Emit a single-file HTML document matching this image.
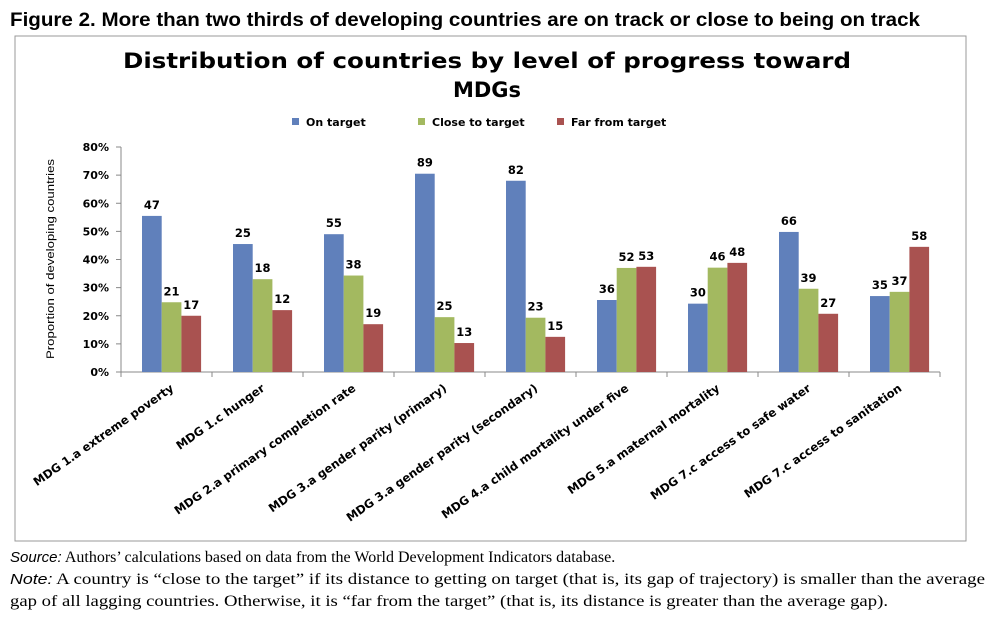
<!DOCTYPE html>
<html><head><meta charset="utf-8"><style>
html,body{margin:0;padding:0;background:#fff;}
svg{display:block;}
</style></head><body>
<svg id="c" width="997" height="625" viewBox="0 0 997 625" xmlns="http://www.w3.org/2000/svg">
<text x="10" y="26" font-family="Liberation Sans, sans-serif" font-weight="bold" font-size="19" textLength="910" lengthAdjust="spacingAndGlyphs">Figure 2. More than two thirds of developing countries are on track or close to being on track</text>
<rect x="15" y="36" width="951" height="505" fill="#fff" stroke="#999" stroke-width="1"/>
<text x="487" y="68" text-anchor="middle" font-family="DejaVu Sans, sans-serif" font-weight="bold" font-size="21" textLength="728" lengthAdjust="spacingAndGlyphs">Distribution of countries by level of progress toward</text>
<text x="487" y="97" text-anchor="middle" font-family="DejaVu Sans, sans-serif" font-weight="bold" font-size="21">MDGs</text>
<g id="legend" font-family="DejaVu Sans, sans-serif" font-weight="bold" font-size="11"></g>
<text transform="translate(54,259) rotate(-90)" text-anchor="middle" font-family="Liberation Sans, sans-serif" font-size="11" textLength="200" lengthAdjust="spacingAndGlyphs">Proportion of developing countries</text>
<g id="plot"></g>
<text x="10" y="562" font-family="Liberation Serif, serif" font-size="16"><tspan font-family="Liberation Sans, sans-serif" font-style="italic" font-size="15">Source:</tspan> Authors’ calculations based on data from the World Development Indicators database.</text>
<text x="10" y="584" font-family="Liberation Serif, serif" font-size="16" textLength="975" lengthAdjust="spacingAndGlyphs"><tspan font-family="Liberation Sans, sans-serif" font-style="italic" font-size="15">Note:</tspan> A country is “close to the target” if its distance to getting on target (that is, its gap of trajectory) is smaller than the average</text>
<text x="10" y="606" font-family="Liberation Serif, serif" font-size="16" textLength="878" lengthAdjust="spacingAndGlyphs">gap of all lagging countries. Otherwise, it is “far from the target” (that is, its distance is greater than the average gap).</text>
</svg>
<script>
const categories = ["MDG 1.a extreme poverty","MDG 1.c hunger","MDG 2.a primary completion rate","MDG 3.a gender parity (primary)","MDG 3.a gender parity (secondary)","MDG 4.a child mortality under five","MDG 5.a maternal mortality","MDG 7.c access to safe water","MDG 7.c access to sanitation"];
const seriesNames = ["On target","Close to target","Far from target"];
const onTarget = [55.5,45.5,49,70.5,68,25.6,24.3,49.8,27];
const closeToTarget = [24.8,33,34.3,19.5,19.3,37,37.1,29.6,28.5];
const farFromTarget = [20,22,17,10.3,12.5,37.4,38.8,20.7,44.5];
const onTargetLabels = ["47","25","55","89","82","36","30","66","35"];
const closeLabels = ["21","18","38","25","23","52","46","39","37"];
const farLabels = ["17","12","19","13","15","53","48","27","58"];
const yTicks = [0,10,20,30,40,50,60,70,80];

const NS="http://www.w3.org/2000/svg";
const fills=["#6080bb","#a3b960","#a95250"];
const X0=121,X1=940,Y0=372,Y1=147;
const y=v=>Y0-(v-0)/(80)*(Y0-Y1);
const gw=(X1-X0)/categories.length;
const bw=19.7;
const plot=document.getElementById('plot');
function mk(tag,attrs,parent){const e=document.createElementNS(NS,tag);for(const k in attrs)e.setAttribute(k,attrs[k]);(parent||plot).appendChild(e);return e;}
let ax=mk('line',{x1:X0,y1:Y1,x2:X0,y2:Y0,stroke:'#888','stroke-width':1});


let bx=mk('line',{x1:X0,y1:Y0,x2:X1,y2:Y0,stroke:'#888','stroke-width':1});


yTicks.forEach(t=>{
  mk('line',{x1:X0-5,x2:X0,y1:y(t),y2:y(t),stroke:'#888'});
  const tx=mk('text',{x:X0-12,y:y(t)+4,'text-anchor':'end','font-family':'DejaVu Sans, sans-serif','font-weight':'bold','font-size':11});
  tx.textContent=t+'%';
  
  
});
const vals=[onTarget,closeToTarget,farFromTarget];
const labs=[onTargetLabels,closeLabels,farLabels];
categories.forEach((c,i)=>{
  const gx=X0+i*gw;
  mk('line',{x1:gx,x2:gx,y1:Y0,y2:Y0+5,stroke:'#888'});
  for(let s=0;s<3;s++){
    const bxp=gx+21+s*bw;
    const r=mk('rect',{x:bxp,y:y(vals[s][i]),width:bw,height:Y0-y(vals[s][i]),fill:fills[s]});
    
    
    const t=mk('text',{x:bxp+bw/2,y:y(vals[s][i])-7,'text-anchor':'middle','font-family':'DejaVu Sans, sans-serif','font-weight':'bold','font-size':11.5});
    t.textContent=labs[s][i];
    
    
  }
  const cx=gx+gw/2+8, cy=390;
  const ct=mk('text',{x:cx,y:cy,'text-anchor':'end',transform:`rotate(-35 ${cx} ${cy})`,'font-family':'DejaVu Sans, sans-serif','font-weight':'bold','font-size':11.6});
  ct.textContent=c;
  
  
});
mk('line',{x1:X1,x2:X1,y1:Y0,y2:Y0+5,stroke:'#888'});
const lg=document.getElementById('legend');
const lx=[292,418,557];
seriesNames.forEach((n,s)=>{
  const r=mk('rect',{x:lx[s],y:118,width:7,height:7,fill:fills[s]},lg);
  
  
  const t=mk('text',{x:lx[s]+14,y:126},lg);
  t.textContent=n;
  
  
});
</script>
</body></html>
